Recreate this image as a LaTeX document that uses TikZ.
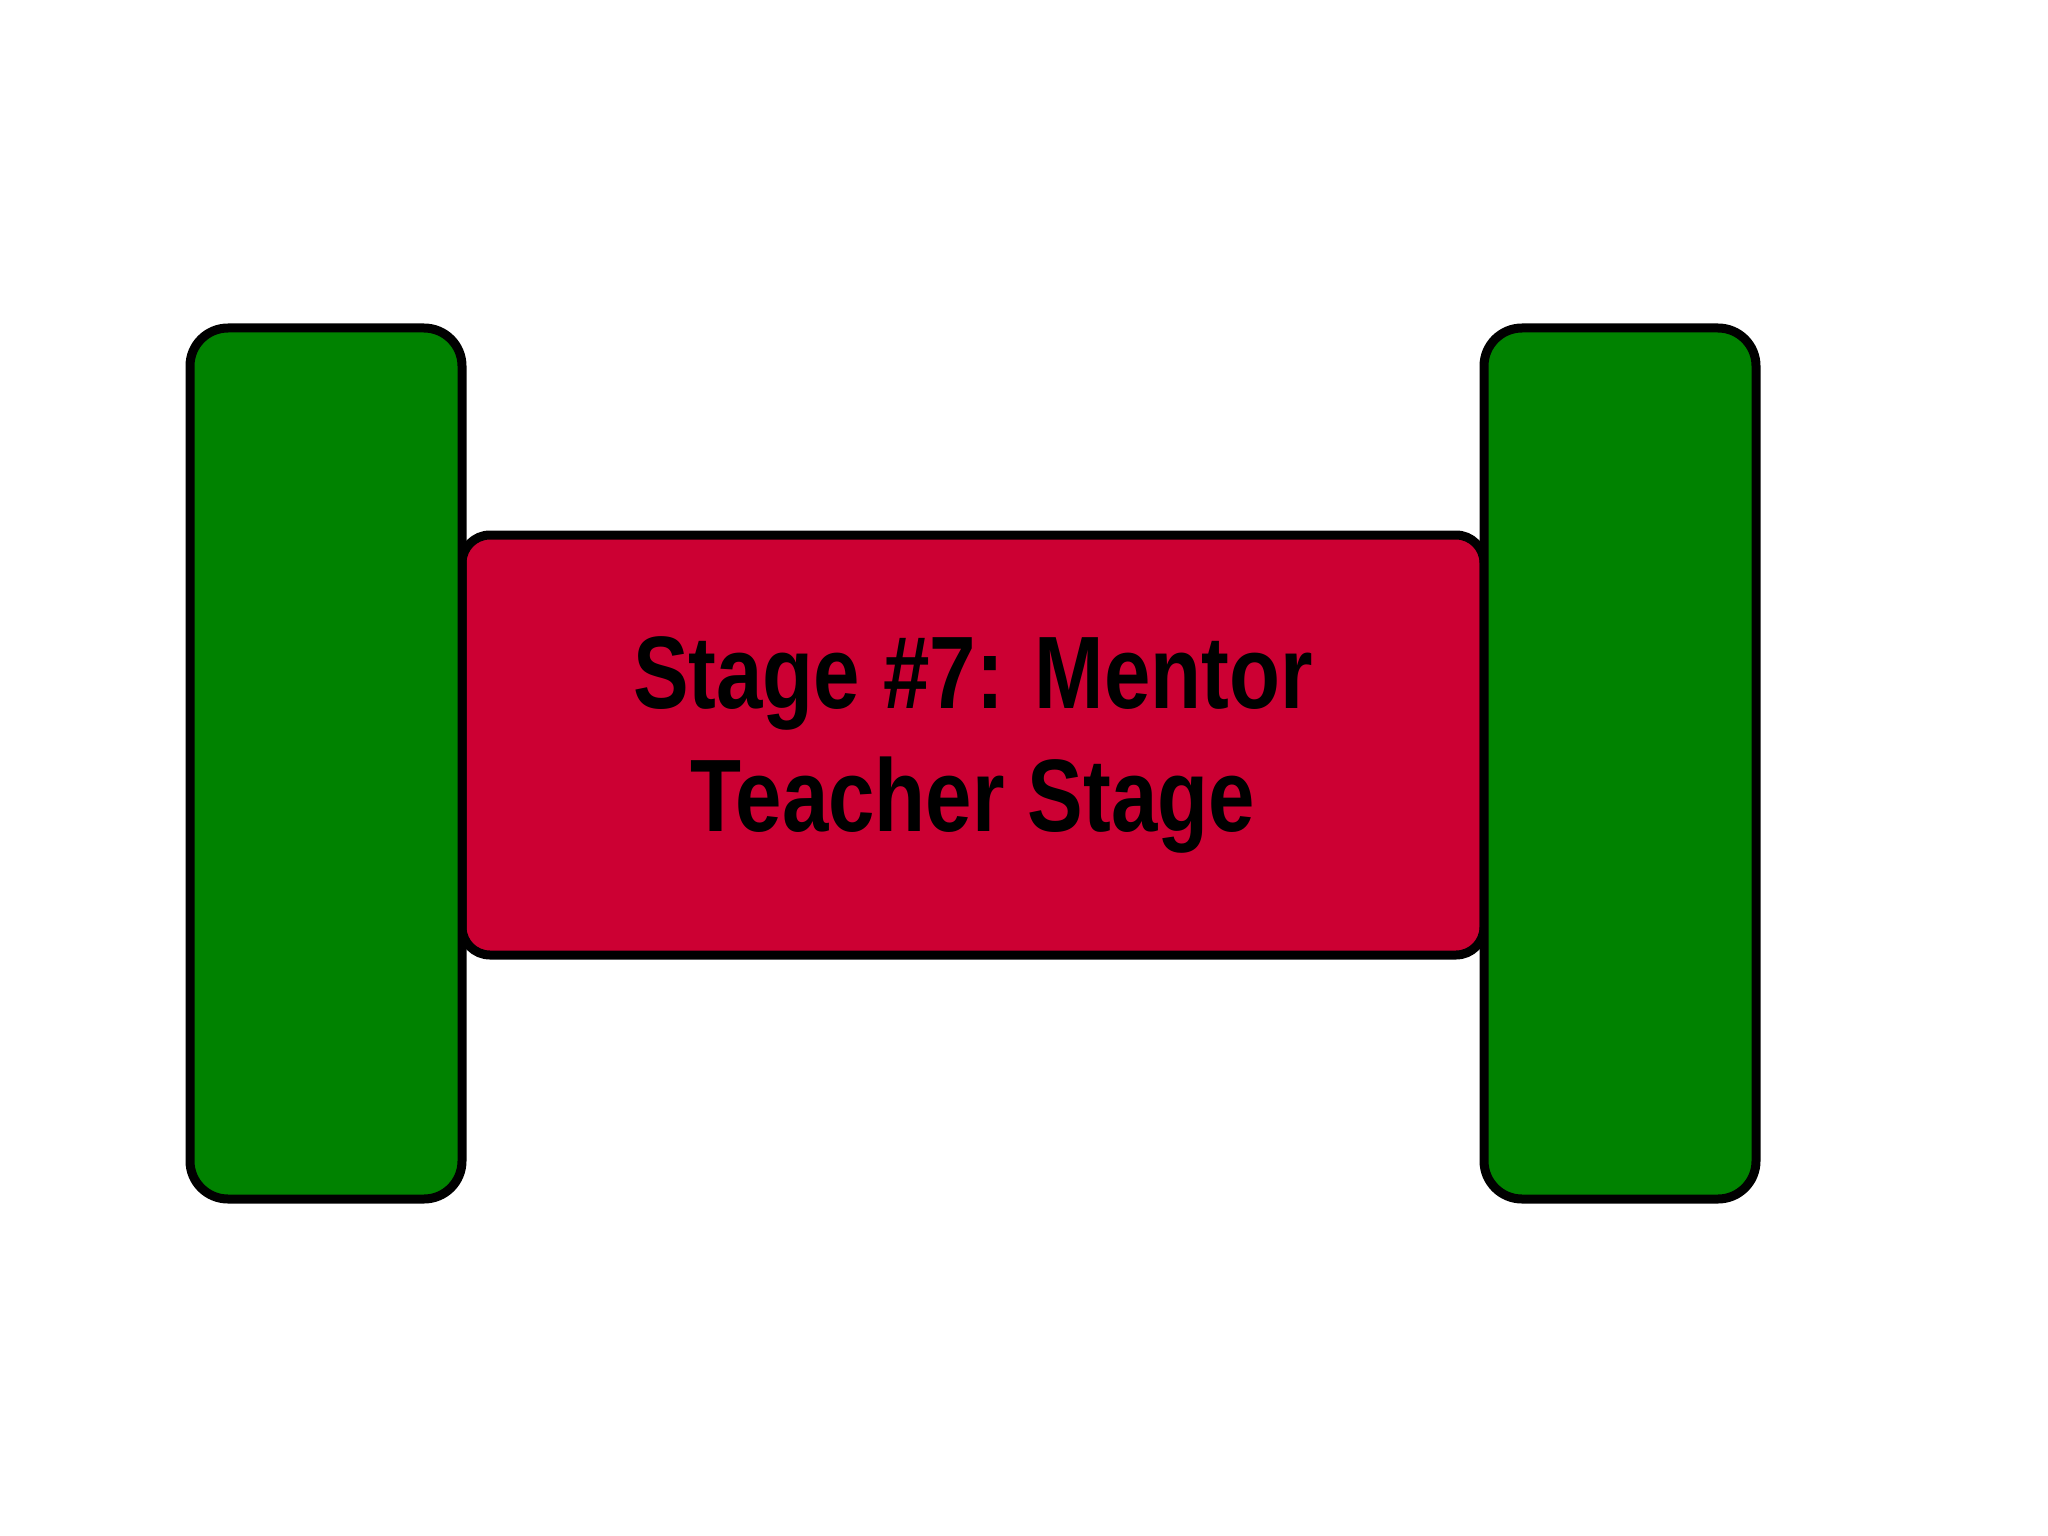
\documentclass[tikz,border=0pt]{standalone}
\usepackage{fontspec}
\setmainfont[FakeStretch=0.81]{Liberation Sans}
\usetikzlibrary{positioning}
\definecolor{stagered}{RGB}{204,0,51}
\definecolor{bargreen}{RGB}{0,130,0}
\tikzset{
  bar/.style={draw, line width=4.5pt, fill=bargreen, rounded corners=19pt,
    minimum width=136pt, minimum height=435.5pt},
  stagebox/.style={draw, line width=4.5pt, fill=stagered, rounded corners=14pt,
    minimum width=511pt, minimum height=210pt, align=center,
    font=\fontsize{51.5pt}{61.5pt}\selectfont\bfseries}
}
\begin{document}
\begin{tikzpicture}[x=0.5pt,y=-0.5pt]
          \useasboundingbox (0,0) rectangle (2048,1535);
          \node[stagebox] at (973,745) (stage) {Stage \#7: Mentor\\Teacher Stage};
          \node[bar] at (326,763.5) (lbar) {};
          \node[bar] at (1620,763.5) (rbar) {};
        \end{tikzpicture}
\end{document}
